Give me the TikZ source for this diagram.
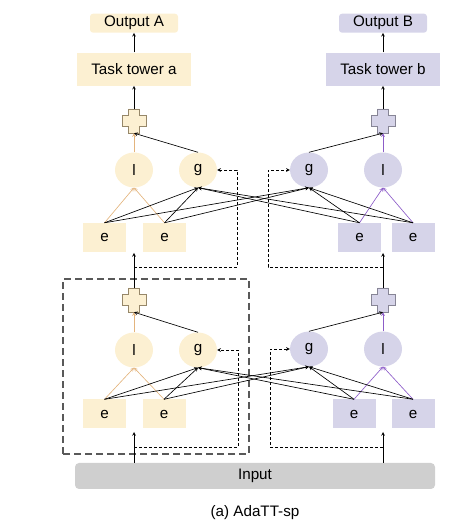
\documentclass[tikz,border=0pt]{standalone}
\usepackage{fontspec}
\setmainfont{Liberation Sans}
\usetikzlibrary{shapes.geometric, arrows, arrows.meta, positioning, calc}
\definecolor{towera}{RGB}{252,240,210}
\definecolor{towerb}{RGB}{214,212,233}
\definecolor{linea}{RGB}{227,180,125}
\definecolor{lineb}{RGB}{140,92,200}
\definecolor{crossa}{RGB}{150,135,105}
\definecolor{crossb}{RGB}{135,133,150}
\definecolor{inputgray}{RGB}{207,207,207}

\newcommand{\addcross}[3]{%
  \draw[fill=#2, draw=#3, line width=0.6pt, shift={(#1.center)}]
    (-5.5,12) -- (5.5,12) -- (5.5,5.5) -- (12,5.5) -- (12,-5.5) -- (5.5,-5.5)
    -- (5.5,-12) -- (-5.5,-12) -- (-5.5,-5.5) -- (-12,-5.5) -- (-12,5.5) -- (-5.5,5.5) -- cycle;}

\begin{document}
\begin{tikzpicture}[
    x=1pt, y=1pt,
    font=\fontsize{15.2}{18}\selectfont,
    expert/.style={minimum width=43pt, minimum height=29pt, inner sep=0pt},
    unit/.style={ellipse, minimum width=38pt, minimum height=35pt, inner sep=0pt},
    cross/.style={minimum size=24pt, inner sep=0pt},
    tower/.style={minimum width=114pt, minimum height=33pt, inner sep=0pt},
    outbox/.style={rounded corners=3pt, minimum width=88pt, minimum height=19pt, inner sep=0pt},
    arrow/.style={->, >=stealth, line width=0.65pt},
    dashlink/.style={->, >=stealth, line width=0.65pt, dash pattern=on 3pt off 2pt},
    frame/.style={draw=black!65, line width=1.1pt, dash pattern=on 7pt off 4pt}
]
    \useasboundingbox (0,0) rectangle (466,532);

    % upper layer
    \node[cross] (plusA) at (134,411) {};
    \node[cross] (plusB) at (383,411) {};
    \node[tower, fill=towera, above=23pt of plusA] (towA) {Task tower a};
    \node[tower, fill=towerb, above=23pt of plusB] (towB) {Task tower b};
    \node[outbox, fill=towera, above=19.5pt of towA] (outA) {Output A};
    \node[outbox, fill=towerb, above=19.5pt of towB] (outB) {Output B};
    \node[unit, fill=towera] (lA) at (134,362) {l};
    \node[unit, fill=towera] (gA) at (198,362) {g};
    \node[unit, fill=towerb] (gB) at (309,362) {g};
    \node[unit, fill=towerb] (lB) at (383,362) {l};
    \node[expert, fill=towera] (eA1) at (104.5,294.5) {e};
    \node[expert, fill=towera] (eA2) at (164.5,294.5) {e};
    \node[expert, fill=towerb] (eB1) at (359.5,294.5) {e};
    \node[expert, fill=towerb] (eB2) at (413,294.5) {e};

    % lower layer
    \node[cross] (plusA2) at (134,232) {};
    \node[cross] (plusB2) at (383,232) {};
    \node[unit, fill=towera] (lA2) at (134,182) {l};
    \node[unit, fill=towera] (gA2) at (198,182) {g};
    \node[unit, fill=towerb] (gB2) at (309,183) {g};
    \node[unit, fill=towerb] (lB2) at (383,183) {l};
    \node[expert, fill=towera] (eA3) at (104.5,118) {e};
    \node[expert, fill=towera] (eA4) at (164,118) {e};
    \node[expert, fill=towerb] (eB3) at (354,118) {e};
    \node[expert, fill=towerb] (eB4) at (413,118) {e};

    \node[rounded corners=4pt, fill=inputgray, minimum width=360pt, minimum height=26pt] (input) at (255,56) {Input};
    \node (caption) at (255,19) {(a) AdaTT-sp};

    \addcross{plusA}{towera}{crossa}
    \addcross{plusB}{towerb}{crossb}
    \addcross{plusA2}{towera}{crossa}
    \addcross{plusB2}{towerb}{crossb}

    \draw[frame] (63,78) rectangle (249,253);

    \coordinate (inA) at (134,100);
    \coordinate (inB) at (383,100);
    \coordinate (midA) at (134,279);
    \coordinate (midB) at (383,279);
    \coordinate (splitA) at (134,265);
    \coordinate (splitB) at (383,265);
    \coordinate (splitA2) at (134,85);
    \coordinate (splitB2) at (383,85);

    \draw[arrow] (input.north -| inA) -- (inA);
    \draw[arrow] (input.north -| inB) -- (inB);
    \draw[arrow] (plusA2.north) -- (midA);
    \draw[arrow] (plusB2.north) -- (midB);

    \draw[dashlink] (splitA) -- ++(103,0) |- (gA.east);
    \draw[dashlink] (splitB) -- ++(-115,0) |- (gB.west);
    \draw[dashlink] (splitA2) -- ++(104,0) |- (gA2.east);
    \draw[dashlink] (splitB2) -- ++(-113,0) |- (gB2.west);

    \foreach \l/\g/\m/\n/\p/\q/\r/\s/\t/\u in {lA/gA/lB/gB/eA1/eA2/eB1/eB2/plusA/plusB, lA2/gA2/lB2/gB2/eA3/eA4/eB3/eB4/plusA2/plusB2} {
        \draw[arrow, linea] (\p.north) -- (\l.south);
        \draw[arrow, linea] (\q.north) -- (\l.south);
        \draw[arrow, lineb] (\r.north) -- (\m.south);
        \draw[arrow, lineb] (\s.north) -- (\m.south);
        \foreach \e in {\p,\q,\r,\s} {
            \draw[arrow] (\e.north) -- (\g.south);
            \draw[arrow] (\e.north) -- (\n.south);
        }
        \draw[arrow, linea] (\l) -- (\t.south);
        \draw[arrow, lineb] (\m) -- (\u.south);
        \draw[arrow] (\g.north) -- (\t.south);
        \draw[arrow] (\n.north) -- (\u.south);
    }

    \draw[arrow] (plusA.north) -- (towA);
    \draw[arrow] (plusB.north) -- (towB);
    \draw[arrow] (towA) -- (outA);
    \draw[arrow] (towB) -- (outB);
\end{tikzpicture}
\end{document}
